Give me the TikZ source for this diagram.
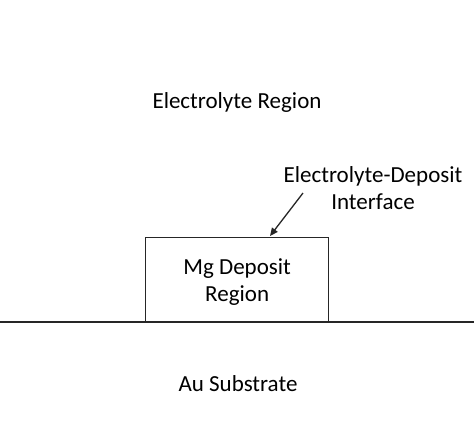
\documentclass[tikz,border=0pt]{standalone}
\usepackage{fontspec}
\setmainfont{Carlito}
\usetikzlibrary{arrows.meta}
\begin{document}
\begin{tikzpicture}[x=1pt,y=-1pt,
  lbl/.style={font=\fontsize{23}{27}\selectfont, inner sep=0pt, align=center},
  ln/.style={line width=1.3pt, black!85}]
\useasboundingbox (0,0) rectangle (474,442);
\fill[white] (0,0) rectangle (474,442);
\coordinate (L) at (0,322);
\coordinate (R) at (474,322);
\draw[ln] (L) -- (R);
\node[draw, ln, minimum width=183pt, minimum height=85pt, inner sep=0pt, anchor=north west] (box) at (145,237) {};
\node[lbl] (mg) at ([yshift=-2pt]box.center) {Mg Deposit\\Region};
\node[lbl] (elec) at (237,102) {Electrolyte Region};
\node[lbl] (iface) at (373,188) {Electrolyte-Deposit\\Interface};
\node[lbl] (au) at (238,384) {Au Substrate};
\coordinate (a1) at (303,193);
\coordinate (a2) at (270,236);
\draw[ln, -{Triangle[length=8pt,width=7pt]}] (a1) -- (a2);
\end{tikzpicture}
\end{document}
